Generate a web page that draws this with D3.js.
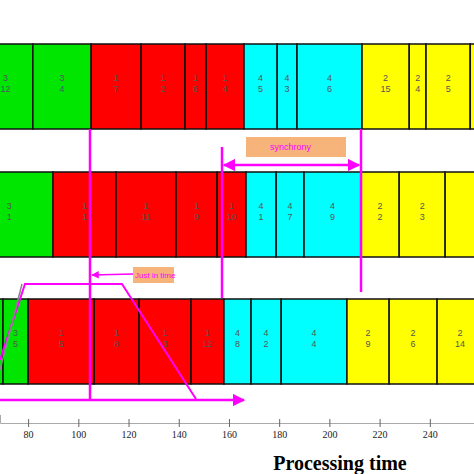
<!DOCTYPE html>
<html><head><meta charset="utf-8">
<script src="https://cdn.jsdelivr.net/npm/d3@7"></script>
<style>body{margin:0;background:#fff}</style></head>
<body><div id="chart"></div>
<script>
// job colours by first number
const colors = {1: "#ff0000", 2: "#ffff00", 3: "#00e600", 4: "#00ffff"};

// each row: boundaries (processing time) and the labels [job, op] of each block
const row1Edges = [60, 81.9, 105.1, 125.0, 142.5, 150.9, 166.0, 179.2, 187.1, 213.0, 231.8, 238.5, 256.1, 270];
const row1Jobs = [[3, 12], [3, 4], [1, 7], [1, 2], [1, 6], [1, 4], [4, 5], [4, 3], [4, 6], [2, 15], [2, 4], [2, 5], [2, ""]];
const row2Edges = [55, 89.9, 115.0, 138.9, 155.3, 166.8, 178.8, 189.9, 212.6, 227.8, 246.1, 270];
const row2Jobs = [[3, 1], [1, 1], [1, 11], [1, 9], [1, 10], [4, 1], [4, 7], [4, 9], [2, 2], [2, 3], [2, ""]];
const row3Edges = [60, 70.0, 80.0, 106.3, 124.2, 144.9, 158.0, 168.8, 180.8, 207.0, 223.8, 242.9, 261.2];
const row3Jobs = [[3, ""], [3, 5], [1, 5], [1, 8], [1, 3], [1, 12], [4, 8], [4, 2], [4, 4], [2, 9], [2, 6], [2, 14]];
const ticks = [80, 100, 120, 140, 160, 180, 200, 220, 240];

const w = 474, h = 474;
const x = d3.scaleLinear().domain([68.8, 257.6]).range([0, w]);
const svg = d3.select("#chart").append("svg").attr("width", w).attr("height", h);

const rows = [
  {edges: row1Edges, jobs: row1Jobs, y0: 44, y1: 129},
  {edges: row2Edges, jobs: row2Jobs, y0: 172, y1: 257},
  {edges: row3Edges, jobs: row3Jobs, y0: 299, y1: 384}
];

rows.forEach(r => {
  const blocks = r.jobs.map((j, i) => ({job: j[0], op: j[1], a: r.edges[i], b: r.edges[i + 1]}));
  const g = svg.append("g");
  g.selectAll("rect").data(blocks).enter().append("rect")
    .attr("x", d => x(d.a)).attr("width", d => x(d.b) - x(d.a))
    .attr("y", r.y0).attr("height", r.y1 - r.y0)
    .attr("fill", d => colors[d.job]).attr("stroke", "#111").attr("stroke-width", 1.5);
  const t = g.selectAll("text").data(blocks.filter(d => d.op !== "")).enter().append("text")
    .attr("x", d => (x(d.a) + x(d.b)) / 2).attr("y", (r.y0 + r.y1) / 2 - 6)
    .attr("text-anchor", "middle").attr("font-family", "Liberation Sans, Arial").attr("font-size", 9)
    .attr("fill", "#555");
  t.append("tspan").attr("x", d => Math.min((x(d.a) + x(d.b)) / 2, 462)).text(d => d.job);
  t.append("tspan").attr("x", d => Math.min((x(d.a) + x(d.b)) / 2, 462)).attr("dy", 11).text(d => d.op);
});

// axis
const axis = svg.append("g").attr("transform", "translate(0,423)")
  .call(d3.axisBottom(x).tickValues(ticks).tickSize(-8).tickPadding(8));
axis.select(".domain").attr("stroke", "#aaa");
axis.selectAll(".tick line").attr("stroke", "#666").attr("transform", "translate(0,4)");
axis.selectAll("text").attr("font-family", "Liberation Serif, Times").attr("font-size", 10).attr("fill", "#222");
svg.append("text").attr("x", 340).attr("y", 470).attr("text-anchor", "middle")
  .attr("font-family", "Liberation Serif, Times New Roman").attr("font-weight", "bold").attr("font-size", 20)
  .text("Processing time");

// annotations
const mag = "#ff00ff";
const defs = svg.append("defs");
defs.append("marker").attr("id", "ah").attr("viewBox", "0 0 10 10").attr("refX", 9).attr("refY", 5)
  .attr("markerWidth", 5).attr("markerHeight", 5).attr("orient", "auto-start-reverse")
  .append("path").attr("d", "M0,0L10,5L0,10z").attr("fill", mag);
const line = (pts, opts = {}) => svg.append("path").attr("d", d3.line()(pts))
  .attr("fill", "none").attr("stroke", opts.c || mag).attr("stroke-width", opts.w || 2.5)
  .attr("marker-end", opts.end ? "url(#ah)" : null).attr("marker-start", opts.start ? "url(#ah)" : null);

line([[90, 129], [90, 400]]);
line([[222, 147], [222, 298]]);
line([[361, 129], [361, 292]]);
line([[224, 165], [359, 165]], {start: true, end: true});
line([[0, 400], [244, 400]], {end: true});
line([[0, 360], [25, 284], [122, 284], [196, 399]], {w: 2});
line([[0, 370], [22, 284]], {c: "#888", w: 1.5});
line([[133, 274], [92, 275]], {w: 1.5, end: true});

svg.append("rect").attr("x", 246).attr("y", 137).attr("width", 100).attr("height", 20).attr("fill", "#f7b47a");
svg.append("text").attr("x", 270).attr("y", 150).attr("font-family", "Liberation Sans").attr("font-size", 9)
  .attr("fill", mag).text("synchrony");
svg.append("rect").attr("x", 133).attr("y", 267).attr("width", 41).attr("height", 16).attr("fill", "#f7b47a");
svg.append("text").attr("x", 135).attr("y", 278).attr("font-family", "Liberation Sans Narrow, Liberation Sans").attr("font-size", 8)
  .attr("fill", mag).text("Just in time");
</script></body></html>
